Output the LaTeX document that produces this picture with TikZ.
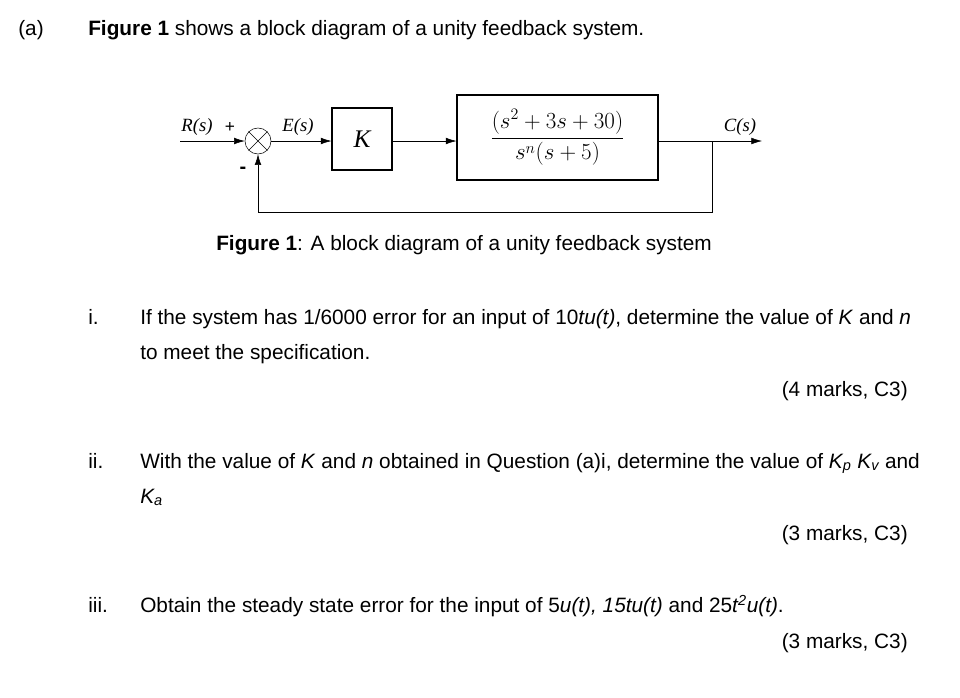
\documentclass[tikz,border=0pt]{standalone}
\usepackage{amsmath}
\usepackage{fontspec}
\setmainfont{Liberation Sans}
\newfontfamily\tms{Liberation Serif}
\usetikzlibrary{arrows.meta}
\begin{document}
\begin{tikzpicture}[x=0.75pt,y=-0.75pt,
  txt/.style={anchor=base west,inner sep=0,font=\fontsize{15.6}{18}\selectfont},
  rtxt/.style={anchor=base east,inner sep=0,font=\fontsize{15.6}{18}\selectfont},
  lbl/.style={inner sep=0,font=\tms\itshape\fontsize{14}{16}\selectfont},
  blk/.style={draw,thick,inner sep=0},
  sig/.style={-{Latex[length=8pt,width=5pt]}}]
\useasboundingbox (0,0) rectangle (960,697);
\node[txt] (a) at (18,35) {(a)};
\node[txt] (t1) at (88,35) {\textbf{Figure 1} shows a block diagram of a unity feedback system.};
% diagram
\node[draw,circle,minimum size=26*0.75pt,inner sep=0] (sum) at (258,141) {};
\draw (sum.north west) -- (sum.south east) (sum.north east) -- (sum.south west);
\node[blk,minimum width=60*0.75pt,minimum height=62*0.75pt,font=\tms\itshape\fontsize{19}{21}\selectfont] (K) at (362,139) {K};
\node[blk,minimum width=201*0.75pt,minimum height=85*0.75pt] (G) at (557.5,137.5) {\fontsize{18}{21}\selectfont$\dfrac{(s^2+3s+30)}{s^n(s+5)}$};
\coordinate (in) at (180,141);
\coordinate (out) at (762,141);
\coordinate (br) at (712,141);
\coordinate (bb) at (712,212);
\coordinate (bl) at (258,212);
\draw[sig] (in) -- (sum.west);
\draw[sig] (sum.east) -- (K.west |- sum.east);
\draw[sig] (K.east |- sum.east) -- (G.west |- sum.east);
\draw[sig] (G.east |- sum.east) -- (out);
\draw[sig] (br) -- (bb) -- (bl) -- (sum.south);
\node[lbl] (R) at (197,127) {R(s)};
\node[lbl,font=\fontsize{13}{14}\selectfont] (plus) at (230,127) {+};
\node[lbl] (E) at (298,127) {E(s)};
\node[lbl] (C) at (740,127) {C(s)};
\node[lbl,font=\bfseries\fontsize{15}{16}\selectfont] (minus) at (243,170) {-};
\node[txt] (cap) at (216,250) {\textbf{Figure 1}: A block diagram of a unity feedback system};
% questions
\node[txt] (i) at (88,324) {i.};
\node[txt] (q1) at (140,324) {If the system has 1/6000 error for an input of 10\textit{tu(t)}, determine the value of \textit{K} and \textit{n}};
\node[txt] (q1b) at (140,359) {to meet the specification.};
\node[rtxt] (m1) at (908,396) {(4 marks, C3)};
\node[txt] (ii) at (88,468) {ii.};
\node[txt] (q2) at (140,468) {With the value of \textit{K} and \textit{n} obtained in Question (a)i, determine the value of \textit{K\textsubscript{p}} \textit{K\textsubscript{v}} and};
\node[txt] (q2b) at (140,503) {\textit{K\textsubscript{a}}};
\node[rtxt] (m2) at (908,540) {(3 marks, C3)};
\node[txt] (iii) at (88,612) {iii.};
\node[txt] (q3) at (140,612) {Obtain the steady state error for the input of 5\textit{u(t), 15tu(t)} and 25\textit{t\textsuperscript{2}u(t)}.};
\node[rtxt] (m3) at (908,648) {(3 marks, C3)};
\end{tikzpicture}
\end{document}
